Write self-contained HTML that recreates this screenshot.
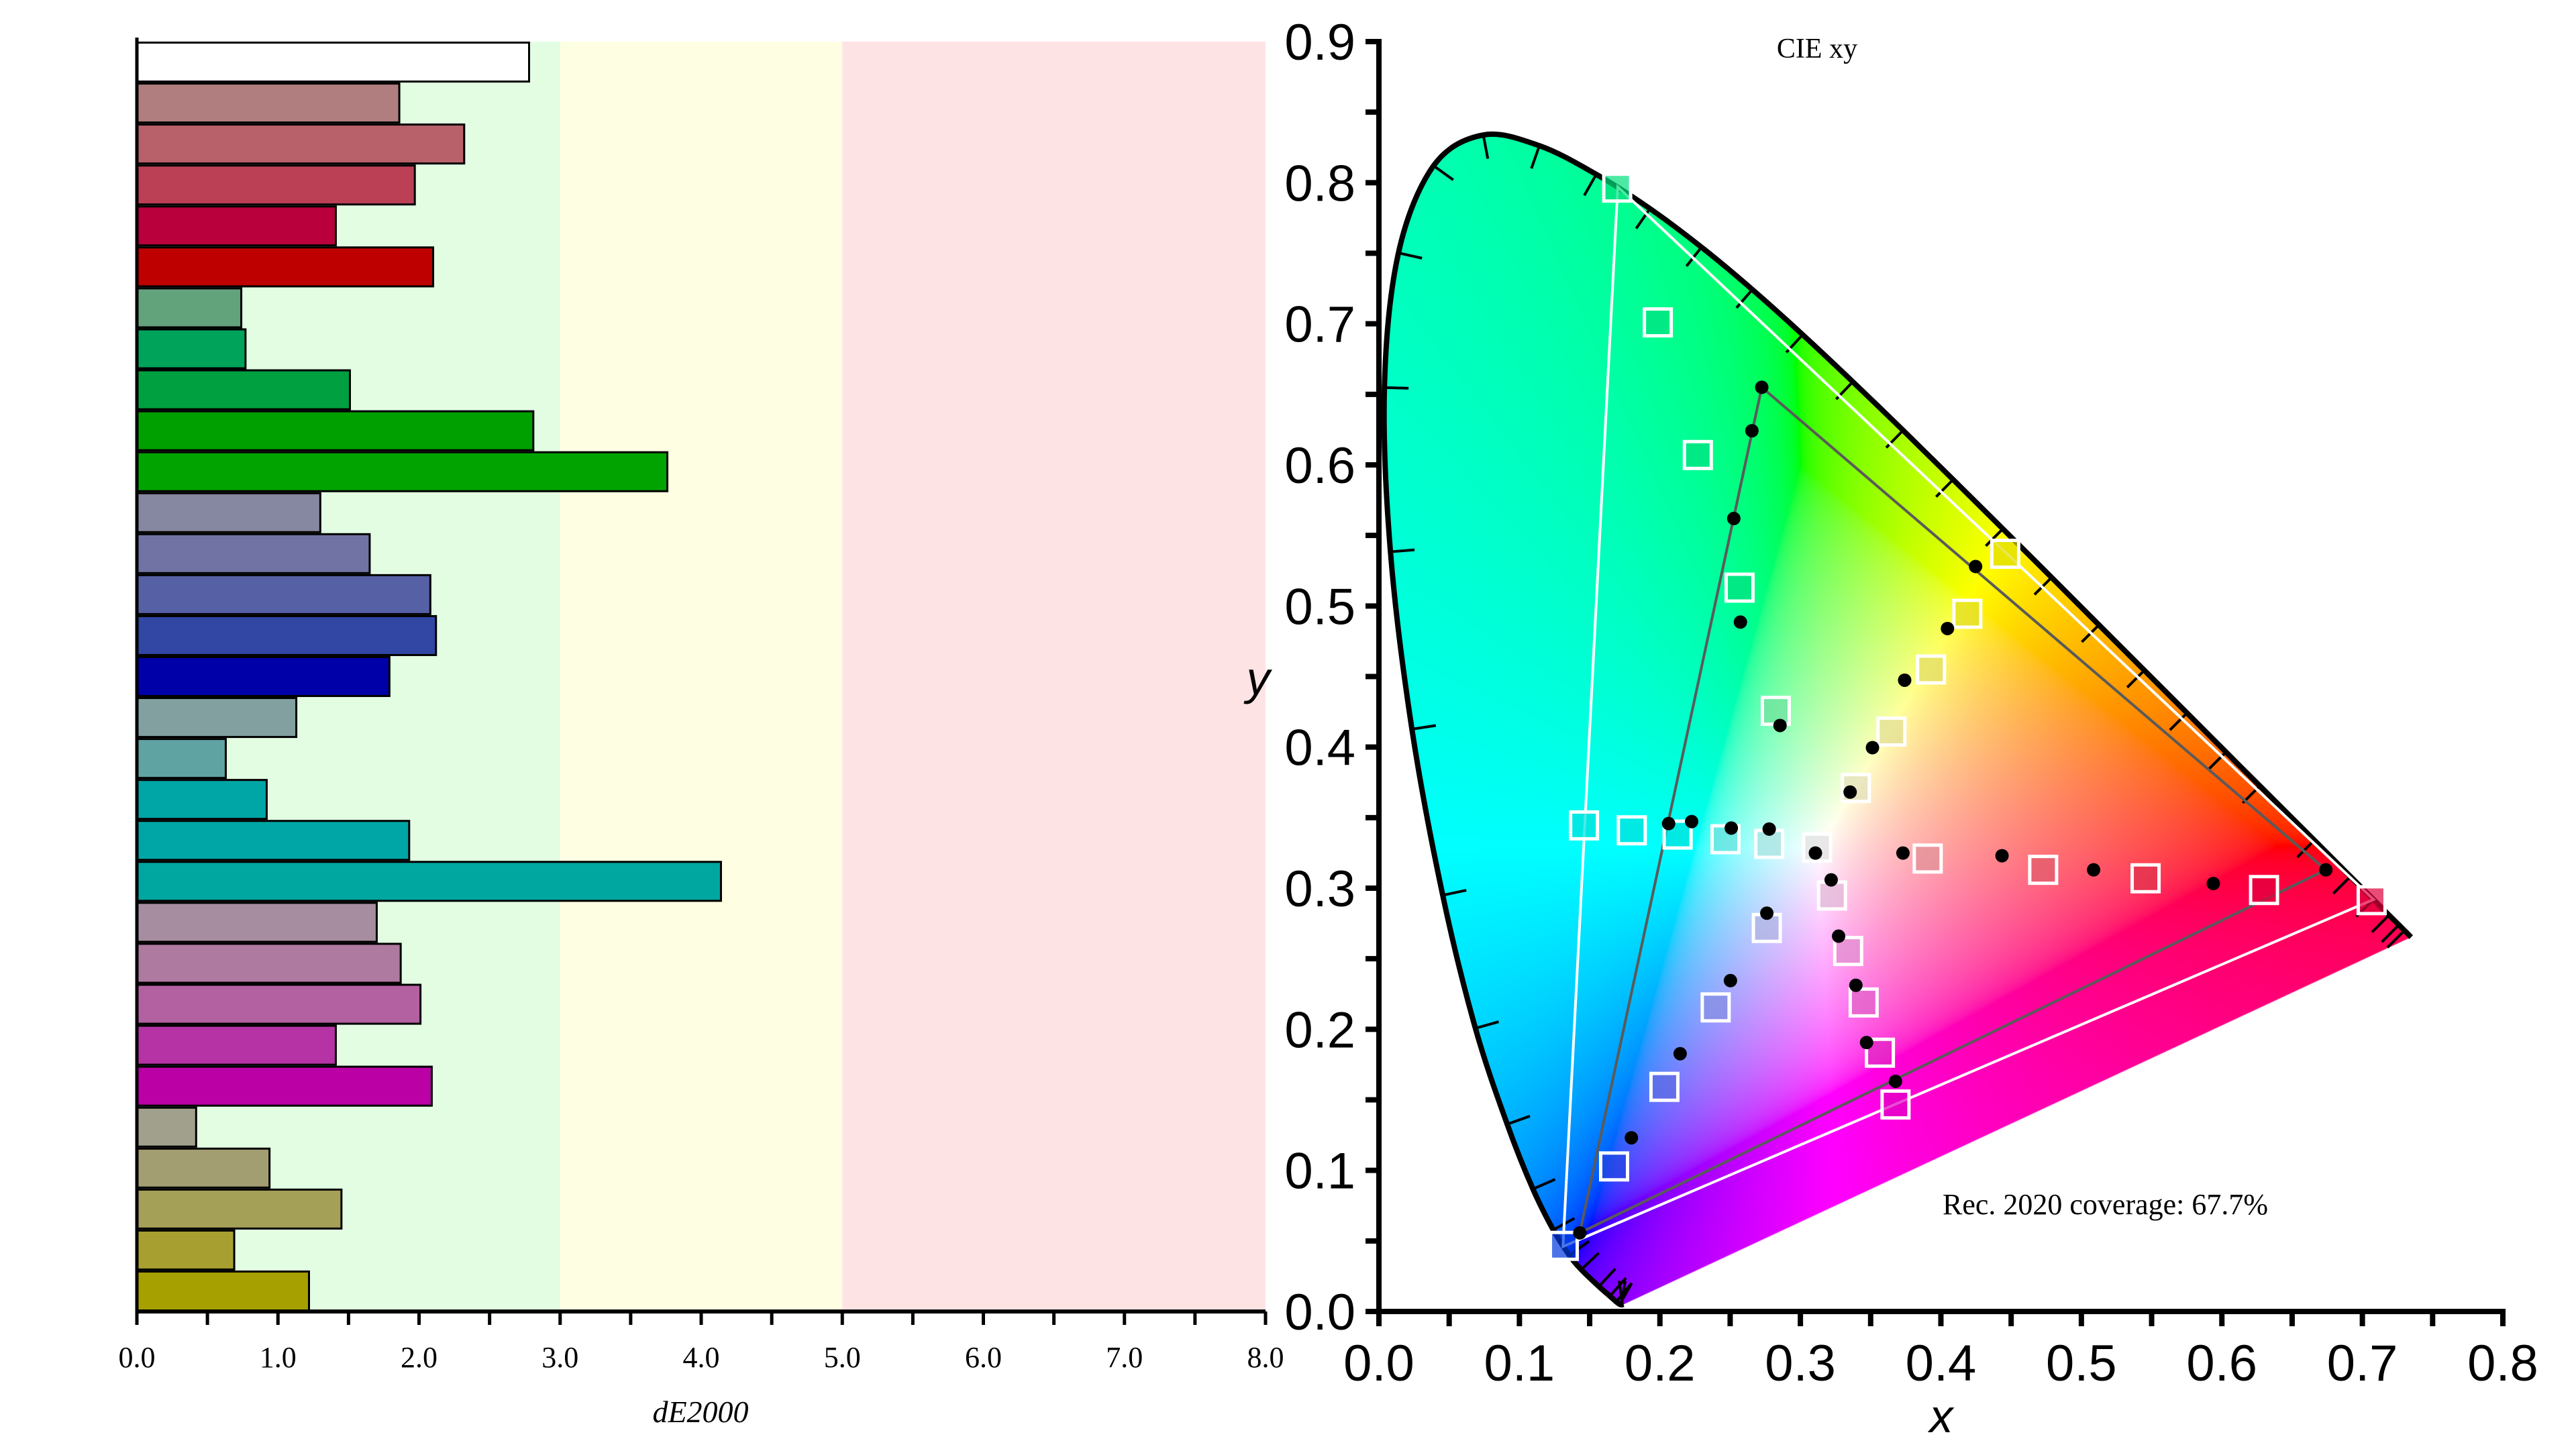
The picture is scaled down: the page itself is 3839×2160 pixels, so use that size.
<!DOCTYPE html>
<html><head><meta charset="utf-8"><style>
html,body{margin:0;padding:0;background:#fff;}
#wrap{position:relative;width:3839px;height:2160px;overflow:hidden;}
canvas,svg{position:absolute;left:0;top:0;}
</style></head><body>
<div id="wrap">
<canvas id="cv" width="3839" height="2160"></canvas>
<svg id="sv" width="3839" height="2160" xmlns="http://www.w3.org/2000/svg"></svg>
</div>
<script>
// ---- Bar chart data ----
const barValues=[2.78,1.86,2.32,1.97,1.41,2.10,0.74,0.77,1.51,2.81,3.76,1.30,1.65,2.08,2.12,1.79,1.13,0.63,0.92,1.93,4.14,1.70,1.87,2.01,1.41,2.09,0.42,0.94,1.45,0.69,1.22];
const barColors=["#ffffff","#b07e7e","#b8616a","#bb3f55","#b9003c","#bf0000","#63a37c","#00a35a","#00a040","#00a000","#00a300","#8687a0","#7073a4","#5660a4","#3246a4","#0000a8","#82a0a0","#5fa3a3","#00a5a5","#00a6a6","#00a7a0","#a68ea0","#ae7aa0","#b461a2","#b533a4","#bb00a6","#a0a08c","#a39e72","#a5a058","#a7a030","#a6a000"];
const deTicks=[0,1,2,3,4,5,6,7,8];
const bandStarts=[0,3,5];
const bandEnds=[3,5,8];
const bandColors=["#e3fde3","#fefee3","#fee3e5"];
// ---- CIE data ----
const locusXY=[[0.1741,0.0050],[0.1733,0.0048],[0.1726,0.0048],[0.1714,0.0051],[0.1689,0.0069],[0.1644,0.0109],[0.1566,0.0177],[0.1440,0.0297],[0.1355,0.0399],[0.1241,0.0578],[0.1096,0.0868],[0.0913,0.1327],[0.0687,0.2007],[0.0454,0.2950],[0.0235,0.4127],[0.0082,0.5384],[0.0039,0.6548],[0.0139,0.7502],[0.0389,0.8120],[0.0743,0.8338],[0.1142,0.8262],[0.1547,0.8059],[0.1929,0.7816],[0.2296,0.7543],[0.2658,0.7243],[0.3016,0.6923],[0.3373,0.6589],[0.3731,0.6245],[0.4087,0.5896],[0.4441,0.5547],[0.4788,0.5202],[0.5125,0.4866],[0.5448,0.4544],[0.5752,0.4242],[0.6029,0.3965],[0.6270,0.3725],[0.6658,0.3340],[0.6915,0.3083],[0.7079,0.2920],[0.7190,0.2809],[0.7260,0.2740],[0.7300,0.2700],[0.7347,0.2653]];
const rec2020X=[0.708,0.170,0.131];
const rec2020Y=[0.292,0.797,0.046];
const measGamutX=[0.674,0.2725,0.143];
const measGamutY=[0.313,0.655,0.0557];
const targetX=[0.1696,0.1985,0.227,0.2567,0.2825,0.4458,0.4188,0.393,0.3648,0.3395,0.146,0.18,0.2126,0.2467,0.2778,0.3119,0.3906,0.4728,0.5457,0.630,0.7066,0.3225,0.334,0.345,0.3566,0.3677,0.2761,0.2397,0.2032,0.1674,0.1316];
const targetY=[0.7965,0.701,0.607,0.513,0.4257,0.537,0.4945,0.455,0.411,0.371,0.3445,0.341,0.338,0.3347,0.3314,0.3288,0.321,0.313,0.307,0.2987,0.2915,0.2948,0.2555,0.219,0.1834,0.1467,0.2718,0.2155,0.1592,0.1028,0.0465];
const measX=[0.2725,0.2655,0.2526,0.2573,0.2855,0.4247,0.4047,0.3742,0.3513,0.3354,0.2062,0.2226,0.2508,0.2778,0.3107,0.373,0.4435,0.5087,0.5939,0.674,0.3219,0.3272,0.3395,0.3471,0.3677,0.2761,0.2502,0.2144,0.1797,0.143];
const measY=[0.655,0.6242,0.562,0.4886,0.4153,0.528,0.484,0.4474,0.3996,0.3681,0.3458,0.3472,0.3426,0.3419,0.3249,0.3249,0.323,0.313,0.3033,0.313,0.3059,0.266,0.2312,0.1906,0.1631,0.2823,0.2345,0.1827,0.1231,0.0557];
const xTicks=[0,0.1,0.2,0.3,0.4,0.5,0.6,0.7,0.8];
const yTicks=[0,0.1,0.2,0.3,0.4,0.5,0.6,0.7,0.8,0.9];

const NS="http://www.w3.org/2000/svg";
const sv=document.getElementById('sv');
function mk(tag,attrs,parent,txt){const e=document.createElementNS(NS,tag);for(const k in attrs)e.setAttribute(k,attrs[k]);if(txt!==undefined)e.textContent=txt;(parent||sv).appendChild(e);return e;}

// ---- Bar chart ----
const L0=204,L1=1886,T0=62,B0=1955;
const bx=v=>L0+(L1-L0)*v/8;
const bh=(B0-T0)/barValues.length;
const by=i=>T0+i*bh;
for(let i=0;i<bandStarts.length;i++){
  const r=mk('rect',{x:bx(bandStarts[i]),y:T0,width:bx(bandEnds[i])-bx(bandStarts[i]),height:B0-T0,fill:bandColors[i]});
  
  
}
for(let i=0;i<barValues.length;i++){
  const r=mk('rect',{x:bx(0),y:by(i)+1.5,width:bx(barValues[i])-bx(0),height:bh-3,fill:barColors[i],stroke:'#000','stroke-width':3});
  
  
}
mk('line',{x1:L0,y1:T0-6,x2:L0,y2:B0,stroke:'#000','stroke-width':5});
mk('line',{x1:L0-2,y1:B0,x2:L1,y2:B0,stroke:'#000','stroke-width':6});
for(let v=0;v<=8.001;v+=0.5){
  mk('line',{x1:bx(v),y1:B0,x2:bx(v),y2:B0+20,stroke:'#000','stroke-width':5});
}
deTicks.forEach(v=>{
  const t=mk('text',{x:bx(v),y:2038,'text-anchor':'middle','font-family':'Liberation Serif, serif','font-size':44},sv,v.toFixed(1));
  
  
});
const dl=mk('text',{x:1044,y:2120,'text-anchor':'middle','font-family':'Liberation Serif, serif','font-size':46,'font-style':'italic'},sv,'dE2000');



// ---- CIE chart ----
const X0=2055,X1=3730,Y0=1955,Y1=62;
const cx=v=>X0+(X1-X0)*v/0.8;
const cy=v=>Y0-(Y0-Y1)*v/0.9;

function xyColor(x,y,dark){
  const z=1-x-y;const X=x/y,Y=1,Z=z/y;
  let r=3.2406*X-1.5372*Y-0.4986*Z,g=-0.9689*X+1.8758*Y+0.0415*Z,b=0.0557*X-0.2040*Y+1.0570*Z;
  const mn=Math.min(r,g,b,0);r-=mn;g-=mn;b-=mn;
  const m=Math.max(r,g,b)||1;r/=m;g/=m;b/=m;
  const gm=c=>c<=0.0031308?12.92*c:1.055*Math.pow(c,1/2.4)-0.055;
  const k=dark||1;
  return [gm(r)*255*k,gm(g)*255*k,gm(b)*255*k];
}
function smoothPath(pts){
  let s='M'+pts[0][0].toFixed(1)+' '+pts[0][1].toFixed(1);
  for(let i=0;i<pts.length-1;i++){
    const p0=pts[Math.max(i-1,0)],p1=pts[i],p2=pts[i+1],p3=pts[Math.min(i+2,pts.length-1)];
    const c1x=p1[0]+(p2[0]-p0[0])/6,c1y=p1[1]+(p2[1]-p0[1])/6;
    const c2x=p2[0]-(p3[0]-p1[0])/6,c2y=p2[1]-(p3[1]-p1[1])/6;
    s+=` C${c1x.toFixed(1)} ${c1y.toFixed(1)} ${c2x.toFixed(1)} ${c2y.toFixed(1)} ${p2[0].toFixed(1)} ${p2[1].toFixed(1)}`;
  }
  return s;
}
const locusPx=locusXY.map(p=>[cx(p[0]),cy(p[1])]);
const locusD=smoothPath(locusPx);
(function(){
  const cv=document.getElementById('cv');const ctx=cv.getContext('2d');
  const off=document.createElement('canvas');off.width=3839;off.height=2160;
  const oc=off.getContext('2d');
  const x0=Math.floor(cx(0)),x1=Math.ceil(cx(0.75)),y0=Math.floor(cy(0.85)),y1=Math.ceil(cy(0));
  const W=x1-x0,H=y1-y0;const img=oc.createImageData(W,H);const d=img.data;
  for(let j=0;j<H;j++){const yy=(Y0-(y0+j))*0.9/(Y0-Y1);if(yy<=0.001)continue;
    for(let i=0;i<W;i++){const xx=(x0+i-X0)*0.8/(X1-X0);
      const c=xyColor(xx,yy);const p=(j*W+i)*4;d[p]=c[0];d[p+1]=c[1];d[p+2]=c[2];d[p+3]=255;}}
  oc.putImageData(img,x0,y0);
  ctx.save();
  const path=new Path2D(locusD+' Z');
  ctx.clip(path);ctx.drawImage(off,0,0);ctx.restore();
})();

const lo=mk('path',{d:locusD,fill:'none',stroke:'#000','stroke-width':8,'stroke-linejoin':'round'});


for(let i=1;i<locusXY.length-1;i++){
  const a=locusPx[i-1],b=locusPx[i+1],p=locusPx[i];
  const dx=b[0]-a[0],dy=b[1]-a[1];const n=Math.hypot(dx,dy)||1;
  const nx=dy/n,ny=-dx/n;
  mk('line',{x1:p[0],y1:p[1],x2:p[0]-nx*36,y2:p[1]-ny*36,stroke:'#000','stroke-width':4});
}
const rt=mk('polygon',{points:rec2020X.map((x,i)=>cx(x)+','+cy(rec2020Y[i])).join(' '),fill:'none',stroke:'#fff','stroke-width':4});


const mt=mk('polygon',{points:measGamutX.map((x,i)=>cx(x)+','+cy(measGamutY[i])).join(' '),fill:'none',stroke:'#5a5a5a','stroke-width':4});


for(let i=0;i<targetX.length;i++){
  const c=xyColor(targetX[i],targetY[i],0.88);
  const s=mk('rect',{x:cx(targetX[i])-20,y:cy(targetY[i])-20,width:40,height:40,fill:`rgb(${c[0]|0},${c[1]|0},${c[2]|0})`,'fill-opacity':0.7,stroke:'#fff','stroke-width':5});
  
  
}
for(let i=0;i<measX.length;i++){
  const d=mk('circle',{cx:cx(measX[i]),cy:cy(measY[i]),r:10,fill:'#000'});
  
  
}
mk('line',{x1:X0,y1:Y1-4,x2:X0,y2:Y0+4,stroke:'#000','stroke-width':8});
mk('line',{x1:X0-4,y1:Y0,x2:X1+4,y2:Y0,stroke:'#000','stroke-width':8});
for(let v=0;v<=0.9001;v+=0.05) mk('line',{x1:X0-20,y1:cy(v),x2:X0,y2:cy(v),stroke:'#000','stroke-width':8});
for(let v=0;v<=0.8001;v+=0.05) mk('line',{x1:cx(v),y1:Y0,x2:cx(v),y2:Y0+22,stroke:'#000','stroke-width':8});
yTicks.forEach(v=>{
  const t=mk('text',{x:2020,y:cy(v)+27,'text-anchor':'end','font-family':'Liberation Sans, sans-serif','font-size':76},sv,v.toFixed(1));
  
  
});
xTicks.forEach(v=>{
  const t=mk('text',{x:cx(v),y:2058,'text-anchor':'middle','font-family':'Liberation Sans, sans-serif','font-size':76},sv,v.toFixed(1));
  
  
});
const xt=mk('text',{x:2893,y:2135,'text-anchor':'middle','font-family':'Liberation Sans, sans-serif','font-size':70,'font-style':'italic'},sv,'x');


const yt=mk('text',{x:1875,y:1035,'text-anchor':'middle','font-family':'Liberation Sans, sans-serif','font-size':70,'font-style':'italic'},sv,'y');


const tt=mk('text',{x:2708,y:86,'text-anchor':'middle','font-family':'Liberation Serif, serif','font-size':42},sv,'CIE xy');


const cov=mk('text',{x:2895,y:1810,'font-family':'Liberation Serif, serif','font-size':44},sv,'Rec. 2020 coverage: 67.7%');


</script>
</body></html>
